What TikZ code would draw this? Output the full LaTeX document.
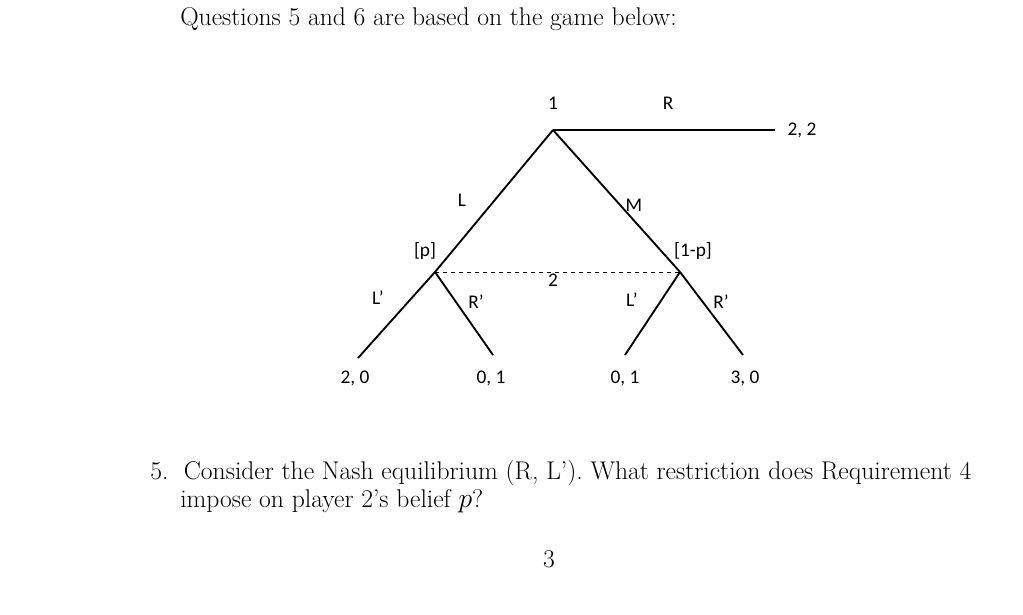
\documentclass[tikz,border=0pt]{standalone}
\usepackage{fontspec}
\newfontfamily\carfont{Carlito}
\begin{document}
\begin{tikzpicture}[x=0.75pt,y=-0.75pt,
 br/.style={line width=1.4pt},
 lab/.style={font=\carfont\fontsize{14.5}{16}\selectfont,inner sep=1pt},
 txt/.style={font=\fontsize{19.2}{22}\selectfont,inner sep=0pt,anchor=base west}]
\useasboundingbox (0,0) rectangle (1023,614);
\node[txt] (q) at (180,26) {Questions 5 and 6 are based on the game below:};
\coordinate (r) at (553,130);
\coordinate (rr) at (775,130);
\coordinate (a) at (435,272);
\coordinate (b) at (680,272);
\coordinate (l1) at (358,358);
\coordinate (l2) at (493,355);
\coordinate (l3) at (625,355);
\coordinate (l4) at (743,355);
\draw[br] (r) -- (rr);
\draw[br] (r) -- (a);
\draw[br] (r) -- (b);
\draw[br] (a) -- (l1);
\draw[br] (a) -- (l2);
\draw[br] (b) -- (l3);
\draw[br] (b) -- (l4);
\draw[dashed,line width=0.6pt] (a) -- (b);
\node[lab] (n1) at (553,103) {1};
\node[lab] (nR) at (668,103) {R};
\node[lab,anchor=west] (p22) at (786,130) {2, 2};
\node[lab] (nL) at (462,200) {L};
\node[lab] (nM) at (634,205) {M};
\node[lab] (np) at (425,251) {[p]};
\node[lab] (n1p) at (693,251) {[1-p]};
\node[lab] (n2) at (553,280) {2};
\node[lab] (a1) at (378,298) {L’};
\node[lab] (a2) at (476,302) {R’};
\node[lab] (a3) at (632,300) {L’};
\node[lab] (a4) at (721,302) {R’};
\node[lab] (p1) at (355,378) {2, 0};
\node[lab] (p2) at (491,378) {0, 1};
\node[lab] (p3) at (625,378) {0, 1};
\node[lab] (p4) at (745,378) {3, 0};
\node[txt] (q5) at (150,479) {5.\ \ Consider the Nash equilibrium (R, L’). What restriction does Requirement 4};
\node[txt] (q5b) at (180,507) {impose on player 2’s belief $p$?};
\node[txt,anchor=base] (pg) at (549,567) {3};
\end{tikzpicture}
\end{document}
